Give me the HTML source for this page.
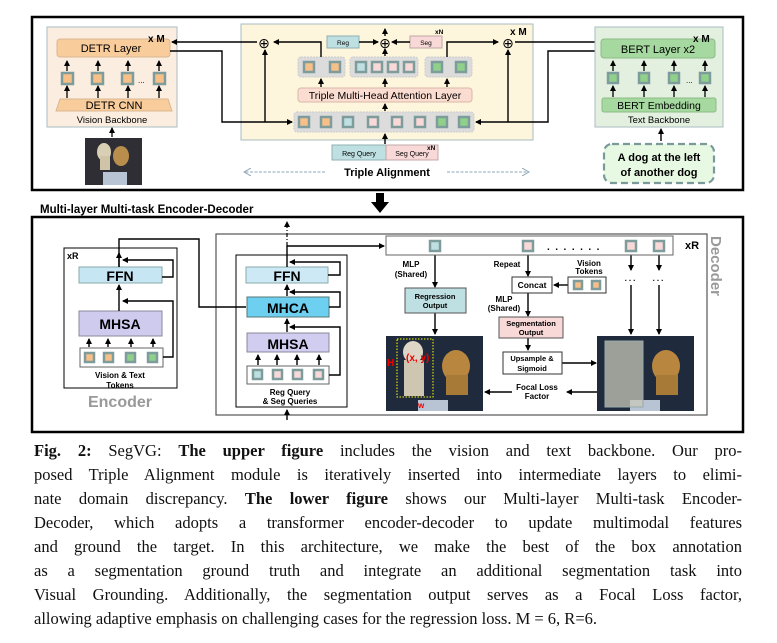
<!DOCTYPE html>
<html><head><meta charset="utf-8"><style>
body{margin:0;background:#fff;width:777px;height:643px;overflow:hidden;position:relative}
svg{position:absolute;left:0;top:0}
.cap{position:absolute;left:34px;width:708px;font-family:"Liberation Serif",serif;font-size:16.5px;line-height:20px;text-align:justify;text-align-last:justify;color:#111;white-space:nowrap}
text{font-family:"Liberation Sans",sans-serif}
</style></head><body>
<svg width="777" height="643" viewBox="0 0 777 643">
<defs>
<marker id="a" markerWidth="6" markerHeight="6" refX="5" refY="3" orient="auto" markerUnits="userSpaceOnUse"><path d="M0,0 L6,3 L0,6 z" fill="#000"/></marker>
<marker id="g" markerWidth="8" markerHeight="8" refX="7" refY="4" orient="auto" markerUnits="userSpaceOnUse"><path d="M0,0 L7,4 L0,8" fill="none" stroke="#8fa8b8"/></marker>
</defs>
<rect x="32" y="17" width="711" height="173" fill="none" stroke="#000" stroke-width="2.5"/>
<rect x="47" y="27" width="130" height="100" fill="#fbeee0" stroke="#a8bcc0"/>
<rect x="57" y="39" width="113" height="18" rx="3" fill="#f9cc9b" stroke="#d8b890"/>
<text x="111" y="52" font-size="11" text-anchor="middle">DETR Layer</text>
<text x="148" y="42" font-size="10" font-weight="bold">x M</text>
<g>
<rect x="62" y="73" width="11" height="11" fill="#f7c089" stroke="#7f9c9c" stroke-width="2.5"/>
<rect x="92" y="73" width="11" height="11" fill="#f7c089" stroke="#7f9c9c" stroke-width="2.5"/>
<rect x="122" y="73" width="11" height="11" fill="#f7c089" stroke="#7f9c9c" stroke-width="2.5"/>
<rect x="154" y="73" width="11" height="11" fill="#f7c089" stroke="#7f9c9c" stroke-width="2.5"/>
<text x="138" y="83" font-size="8">...</text>
</g>
<g stroke="#000" stroke-width="1.3" marker-end="url(#a)">
<line x1="67" y1="71" x2="67" y2="61"/><line x1="98" y1="71" x2="98" y2="61"/><line x1="128" y1="71" x2="128" y2="61"/><line x1="159" y1="71" x2="159" y2="61"/>
<line x1="67" y1="98" x2="67" y2="86"/><line x1="98" y1="98" x2="98" y2="86"/><line x1="128" y1="98" x2="128" y2="86"/><line x1="159" y1="98" x2="159" y2="86"/>
<line x1="112" y1="137" x2="112" y2="128"/>
</g>
<polygon points="60,99 168,99 172,111 56,111" fill="#f9cc9b" stroke="#d8b890"/>
<text x="114" y="109" font-size="11" text-anchor="middle">DETR CNN</text>
<text x="112" y="123" font-size="9.5" text-anchor="middle">Vision Backbone</text>
<rect x="85" y="138" width="57" height="47" fill="#2e2e34"/>
<ellipse cx="104" cy="152" rx="7" ry="9" fill="#d9cfb4"/><rect x="100" y="156" width="10" height="14" fill="#cfc4a8"/>
<ellipse cx="121" cy="156" rx="8" ry="10" fill="#b98e4c"/>
<rect x="103" y="172" width="24" height="13" fill="#b8c4d4"/>
<rect x="241" y="24" width="292" height="116" fill="#fdf5dc" stroke="#a8bcc0"/>
<text x="510" y="35" font-size="10" font-weight="bold">x M</text>
<g font-size="14" text-anchor="middle"><text x="264" y="48">⊕</text><text x="385" y="48">⊕</text><text x="508" y="48">⊕</text></g>
<rect x="327" y="36" width="32" height="12" fill="#bfe0e2" stroke="#90b0b0"/><text x="343" y="45" font-size="6.5" text-anchor="middle">Reg</text>
<rect x="410" y="36" width="32" height="12" fill="#f9d8d8" stroke="#c0a8a8"/><text x="426" y="45" font-size="6.5" text-anchor="middle">Seg</text>
<text x="435" y="34" font-size="6.5" font-weight="bold">xN</text>
<rect x="298" y="57" width="47" height="20" rx="3" fill="#dcdcdc" stroke="#ccc" stroke-dasharray="2,1"/>
<rect x="350" y="57" width="68" height="20" rx="3" fill="#dcdcdc" stroke="#ccc" stroke-dasharray="2,1"/>
<rect x="425" y="57" width="47" height="20" rx="3" fill="#dcdcdc" stroke="#ccc" stroke-dasharray="2,1"/>
<rect x="294" y="112" width="180" height="20" rx="3" fill="#dcdcdc" stroke="#ccc" stroke-dasharray="2,1"/>
<g stroke="#7f9c9c" stroke-width="2.5">
<rect x="304" y="62" width="10" height="10" fill="#f7c089"/><rect x="330" y="62" width="10" height="10" fill="#f7c089"/>
<rect x="356" y="62" width="10" height="10" fill="#bfe0e2"/><rect x="372" y="62" width="10" height="10" fill="#f9d8d8"/><rect x="388" y="62" width="10" height="10" fill="#f9d8d8"/><rect x="404" y="62" width="10" height="10" fill="#f9d8d8"/>
<rect x="432" y="62" width="10" height="10" fill="#8fd08a"/><rect x="456" y="62" width="10" height="10" fill="#8fd08a"/>
<rect x="299" y="117" width="10" height="10" fill="#f7c089"/><rect x="321" y="117" width="10" height="10" fill="#f7c089"/><rect x="343" y="117" width="10" height="10" fill="#bfe0e2"/><rect x="368" y="117" width="10" height="10" fill="#f9d8d8"/><rect x="392" y="117" width="10" height="10" fill="#f9d8d8"/><rect x="415" y="117" width="10" height="10" fill="#f9d8d8"/><rect x="437" y="117" width="10" height="10" fill="#8fd08a"/><rect x="459" y="117" width="10" height="10" fill="#8fd08a"/>
</g>
<rect x="298" y="88" width="174" height="14" rx="3" fill="#fbdcd0" stroke="#d8b8a8"/>
<text x="385" y="99" font-size="10.5" text-anchor="middle">Triple Multi-Head Attention Layer</text>
<rect x="332" y="145" width="54" height="15" fill="#bfe0e2" stroke="#90b0b0"/><text x="359" y="156" font-size="7" text-anchor="middle">Reg Query</text>
<rect x="386" y="145" width="52" height="15" fill="#f9d8d8" stroke="#c0a8a8"/><text x="412" y="156" font-size="7" text-anchor="middle">Seg Query</text>
<text x="427" y="150" font-size="6.5" font-weight="bold">xN</text>
<text x="387" y="176" font-size="11" font-weight="bold" text-anchor="middle">Triple Alignment</text>
<line x1="325" y1="172" x2="244" y2="172" stroke="#8fa8b8" stroke-dasharray="3,1.5" marker-end="url(#g)"/>
<line x1="447" y1="172" x2="529" y2="172" stroke="#8fa8b8" stroke-dasharray="3,1.5" marker-end="url(#g)"/>
<g stroke="#000" stroke-width="1.4" fill="none" marker-end="url(#a)">
<line x1="385" y1="144" x2="385" y2="134"/>
<line x1="385" y1="111" x2="385" y2="104"/>
<line x1="385" y1="87" x2="385" y2="79"/>
<line x1="385" y1="56" x2="385" y2="49"/>
<line x1="385" y1="36" x2="385" y2="29"/>
<line x1="359" y1="42" x2="378" y2="42"/>
<line x1="410" y1="42" x2="392" y2="42"/>
<line x1="321" y1="87" x2="321" y2="79"/>
<line x1="447" y1="87" x2="447" y2="79"/>
<polyline points="321,57 321,42 274,42"/>
<polyline points="447,57 447,42 498,42"/>
<line x1="257" y1="42" x2="172" y2="42"/>
<line x1="515" y1="42" x2="600" y2="42"/>
<polyline points="170,51 222,51 222,122 292,122"/>
<polyline points="600,51 548,51 548,122 476,122"/>
<line x1="265" y1="122" x2="265" y2="50"/>
<line x1="508" y1="122" x2="508" y2="50"/>
<line x1="661" y1="141" x2="661" y2="129"/>
</g>
<rect x="595" y="27" width="128" height="100" fill="#e3f0e0" stroke="#a8bcc0"/>
<rect x="601" y="39" width="114" height="19" rx="3" fill="#a6d9a0" stroke="#8cbc88"/>
<text x="658" y="53" font-size="11" text-anchor="middle">BERT Layer x2</text>
<text x="693" y="42" font-size="10" font-weight="bold">x M</text>
<g stroke="#7f9c9c" stroke-width="2.5" fill="#8fd08a">
<rect x="608" y="73" width="10" height="10"/><rect x="639" y="73" width="10" height="10"/><rect x="669" y="73" width="10" height="10"/><rect x="700" y="73" width="10" height="10"/></g>
<text x="686" y="83" font-size="8">...</text>
<g stroke="#000" stroke-width="1.3" marker-end="url(#a)">
<line x1="613" y1="71" x2="613" y2="61"/><line x1="644" y1="71" x2="644" y2="61"/><line x1="674" y1="71" x2="674" y2="61"/><line x1="705" y1="71" x2="705" y2="61"/>
<line x1="613" y1="97" x2="613" y2="86"/><line x1="644" y1="97" x2="644" y2="86"/><line x1="674" y1="97" x2="674" y2="86"/><line x1="705" y1="97" x2="705" y2="86"/>
</g>
<rect x="602" y="98" width="114" height="14" rx="2" fill="#a6d9a0" stroke="#8cbc88"/>
<text x="659" y="109" font-size="10.5" text-anchor="middle">BERT Embedding</text>
<text x="659" y="123" font-size="9.5" text-anchor="middle">Text Backbone</text>
<rect x="604" y="144" width="110" height="39" rx="8" fill="#e7f8e3" stroke="#7a9a9a" stroke-width="2.2" stroke-dasharray="7,4"/>
<text x="659" y="161" font-size="11" font-weight="bold" text-anchor="middle">A dog at the left</text>
<text x="659" y="176" font-size="11" font-weight="bold" text-anchor="middle">of another dog</text>
<rect x="376" y="193" width="8" height="9" fill="#000"/><polygon points="371,202 389,202 380,213" fill="#000"/>
<text x="40" y="213" font-size="11.5" font-weight="bold">Multi-layer Multi-task Encoder-Decoder</text>
<rect x="32" y="217" width="711" height="215" fill="none" stroke="#000" stroke-width="2.5"/>
<rect x="64" y="248" width="113" height="140" fill="#fff" stroke="#000"/>
<text x="67" y="259" font-size="9" font-weight="bold">xR</text>
<rect x="79" y="267" width="83" height="16" fill="#c5e6f2" stroke="#8aa"/>
<text x="120" y="281" font-size="14" font-weight="bold" text-anchor="middle">FFN</text>
<rect x="79" y="311" width="83" height="25" fill="#cfcbef" stroke="#889"/>
<text x="120" y="329" font-size="14" font-weight="bold" text-anchor="middle">MHSA</text>
<rect x="80" y="348" width="83" height="19" fill="#fff" stroke="#666"/>
<g stroke="#7f9c9c" stroke-width="2.5"><rect x="85" y="353" width="9" height="9" fill="#f7c089"/><rect x="104" y="353" width="9" height="9" fill="#f7c089"/><rect x="126" y="353" width="9" height="9" fill="#8fd08a"/><rect x="148" y="353" width="9" height="9" fill="#8fd08a"/></g>
<text x="120" y="378" font-size="8" font-weight="bold" text-anchor="middle">Vision &amp; Text</text>
<text x="120" y="388" font-size="8" font-weight="bold" text-anchor="middle">Tokens</text>
<text x="120" y="407" font-size="16" font-weight="bold" fill="#999" text-anchor="middle">Encoder</text>
<rect x="216" y="234" width="491" height="181" fill="none" stroke="#555" stroke-width="1.2"/>
<rect x="236" y="255" width="111" height="152" fill="#fff" stroke="#000"/>
<rect x="246" y="267" width="82" height="16" fill="#cce9f5" stroke="#8aa"/>
<text x="287" y="281" font-size="14" font-weight="bold" text-anchor="middle">FFN</text>
<rect x="247" y="297" width="82" height="20" fill="#6dd0f0" stroke="#577"/>
<text x="288" y="313" font-size="14" font-weight="bold" text-anchor="middle">MHCA</text>
<rect x="247" y="333" width="82" height="19" fill="#d0cdf0" stroke="#889"/>
<text x="288" y="349" font-size="14" font-weight="bold" text-anchor="middle">MHSA</text>
<rect x="247" y="366" width="82" height="18" fill="#fff" stroke="#666"/>
<g stroke="#7f9c9c" stroke-width="2.5"><rect x="253" y="370" width="9" height="9" fill="#bfe0e2"/><rect x="273" y="370" width="9" height="9" fill="#f9d8d8"/><rect x="293" y="370" width="9" height="9" fill="#f9d8d8"/><rect x="314" y="370" width="9" height="9" fill="#f9d8d8"/></g>
<text x="290" y="395" font-size="8" font-weight="bold" text-anchor="middle">Reg Query</text>
<text x="290" y="404" font-size="8" font-weight="bold" text-anchor="middle">&amp; Seg Queries</text>
<g stroke="#000" stroke-width="1.4" fill="none" marker-end="url(#a)">
<line x1="119" y1="311" x2="119" y2="285"/>
<polyline points="119,267 119,239 199,239 199,307 246,307" marker-end="none"/>
<line x1="119" y1="267" x2="119" y2="253"/>
<polyline points="163,357 173,357 173,301 123,301"/>
<polyline points="162,277 173,277 173,260 123,260"/>
<line x1="89" y1="347" x2="89" y2="339"/><line x1="108" y1="347" x2="108" y2="339"/><line x1="131" y1="347" x2="131" y2="339"/><line x1="153" y1="347" x2="153" y2="339"/>
<line x1="258" y1="365" x2="258" y2="355"/><line x1="277" y1="365" x2="277" y2="355"/><line x1="297" y1="365" x2="297" y2="355"/><line x1="319" y1="365" x2="319" y2="355"/>
<line x1="287" y1="332" x2="287" y2="319"/><line x1="287" y1="296" x2="287" y2="285"/>
<polyline points="329,375 340,375 340,327 290,327"/>
<polyline points="329,307 340,307 340,292 290,292"/>
<polyline points="328,275 340,275 340,262 290,262"/>
<line x1="287" y1="420" x2="287" y2="410"/>
<polyline points="287,267 287,246 384,246"/>
<line x1="435" y1="255" x2="435" y2="287"/>
<line x1="435" y1="313" x2="435" y2="334"/>
<line x1="528" y1="255" x2="528" y2="276"/>
<line x1="568" y1="285" x2="554" y2="285"/>
<line x1="528" y1="293" x2="528" y2="316"/>
<line x1="528" y1="338" x2="528" y2="350"/>
<line x1="562" y1="363" x2="596" y2="363"/>
<line x1="631" y1="255" x2="631" y2="270"/><line x1="659" y1="255" x2="659" y2="270"/>
<line x1="631" y1="285" x2="631" y2="334"/><line x1="659" y1="285" x2="659" y2="334"/>
<line x1="597" y1="392" x2="567" y2="392"/>
<line x1="512" y1="392" x2="485" y2="392"/>
</g>
<line x1="287" y1="246" x2="287" y2="222" stroke="#000" stroke-width="1.2" stroke-dasharray="4,2,1,2" marker-end="url(#a)"/>
<rect x="386" y="236" width="287" height="19" fill="#fff" stroke="#666"/>
<g stroke="#7f9c9c" stroke-width="2.5"><rect x="430" y="241" width="10" height="10" fill="#bfe0e2"/><rect x="523" y="241" width="10" height="10" fill="#f9d8d8"/><rect x="626" y="241" width="10" height="10" fill="#f9d8d8"/><rect x="654" y="241" width="10" height="10" fill="#f9d8d8"/></g>
<text x="547" y="250" font-size="10" font-weight="bold" letter-spacing="5.5">.......</text>
<text x="685" y="249" font-size="11" font-weight="bold">xR</text>
<text x="711" y="236" font-size="15" font-weight="bold" fill="#999" transform="rotate(90 711 236)">Decoder</text>
<g font-size="8" font-weight="bold" text-anchor="middle">
<text x="411" y="267">MLP</text><text x="411" y="277">(Shared)</text>
<text x="507" y="267">Repeat</text>
<text x="589" y="266">Vision</text><text x="589" y="274">Tokens</text>
<text x="504" y="302">MLP</text><text x="504" y="311">(Shared)</text>
<text x="537" y="390">Focal Loss</text><text x="537" y="399">Factor</text>
<text x="631" y="281" letter-spacing="2">...</text><text x="659" y="281" letter-spacing="2">...</text>
</g>
<rect x="405" y="288" width="61" height="25" fill="#bfe0e2" stroke="#555"/>
<text x="435" y="299" font-size="7.5" font-weight="bold" text-anchor="middle">Regression</text><text x="435" y="308" font-size="7.5" font-weight="bold" text-anchor="middle">Output</text>
<rect x="512" y="277" width="40" height="16" fill="#fff" stroke="#333"/>
<text x="532" y="288" font-size="8.5" font-weight="bold" text-anchor="middle">Concat</text>
<rect x="568" y="277" width="38" height="16" fill="#fff" stroke="#333"/>
<g stroke="#7f9c9c" stroke-width="2.5"><rect x="574" y="281" width="8" height="8" fill="#f7c089"/><rect x="592" y="281" width="8" height="8" fill="#f7c089"/></g>
<rect x="499" y="317" width="64" height="21" fill="#f9d8d8" stroke="#555"/>
<text x="531" y="326" font-size="7.5" font-weight="bold" text-anchor="middle">Segmentation</text><text x="531" y="335" font-size="7.5" font-weight="bold" text-anchor="middle">Output</text>
<rect x="503" y="352" width="59" height="22" fill="#fff" stroke="#333"/>
<text x="532" y="361" font-size="7.5" font-weight="bold" text-anchor="middle">Upsample &amp;</text><text x="532" y="371" font-size="7.5" font-weight="bold" text-anchor="middle">Sigmoid</text>
<rect x="386" y="336" width="97" height="75" fill="#1f2a3c"/>
<ellipse cx="413" cy="352" rx="10" ry="11" fill="#ddd6c6"/><rect x="404" y="360" width="20" height="36" fill="#cfc6b2"/>
<ellipse cx="456" cy="366" rx="14" ry="16" fill="#b98640"/><rect x="446" y="375" width="22" height="20" fill="#a87a38"/>
<rect x="418" y="400" width="30" height="11" fill="#b8c4d4"/>
<rect x="397" y="339" width="36" height="58" fill="none" stroke="#ff0" stroke-dasharray="1.5,1.5"/>
<text x="406" y="361" font-size="10" font-weight="bold" fill="#e00">(x, y)</text>
<text x="387" y="366" font-size="10" font-weight="bold" fill="#e00">H</text>
<text x="418" y="408" font-size="8" font-weight="bold" fill="#e00">w</text>
<rect x="597" y="336" width="97" height="75" fill="#1f2a3c"/>
<ellipse cx="666" cy="366" rx="14" ry="16" fill="#b98640"/><rect x="656" y="375" width="22" height="20" fill="#a87a38"/>
<rect x="630" y="400" width="30" height="11" fill="#b8c4d4"/>
<rect x="605" y="341" width="38" height="66" fill="#c8c8b8" fill-opacity="0.75" stroke="#9aa"/>
</svg>
<div class="cap" style="top:441px"><b>Fig. 2:</b> SegVG: <b>The upper figure</b> includes the vision and text backbone. Our pro-</div>
<div class="cap" style="top:465px">posed Triple Alignment module is iteratively inserted into intermediate layers to elimi-</div>
<div class="cap" style="top:489px">nate domain discrepancy. <b>The lower figure</b> shows our Multi-layer Multi-task Encoder-</div>
<div class="cap" style="top:513px">Decoder, which adopts a transformer encoder-decoder to update multimodal features</div>
<div class="cap" style="top:537px">and ground the target. In this architecture, we make the best of the box annotation</div>
<div class="cap" style="top:561px">as a segmentation ground truth and integrate an additional segmentation task into</div>
<div class="cap" style="top:585px">Visual Grounding. Additionally, the segmentation output serves as a Focal Loss factor,</div>
<div class="cap" style="top:609px;text-align-last:left">allowing adaptive emphasis on challenging cases for the regression loss. M = 6, R=6.</div>
</body></html>
